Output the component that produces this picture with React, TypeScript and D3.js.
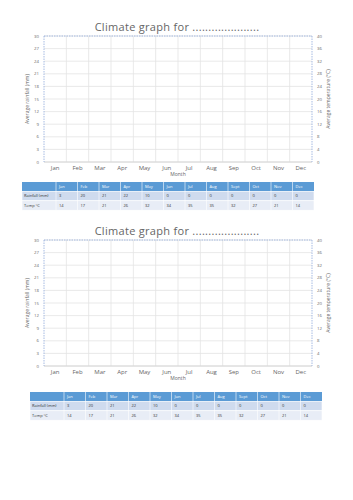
import * as d3 from "d3";

const months = ["Jan", "Feb", "Mar", "Apr", "May", "Jun", "Jul", "Aug", "Sep", "Oct", "Nov", "Dec"];
const tableMonths = ["Jan", "Feb", "Mar", "Apr", "May", "Jun", "Jul", "Aug", "Sept", "Oct", "Nov", "Dec"];
const rainfall = [3, 20, 21, 22, 10, 0, 0, 0, 0, 0, 0, 0];
const temperature = [14, 17, 21, 26, 32, 34, 35, 35, 32, 27, 21, 14];
const rainTicks = [0, 3, 6, 9, 12, 15, 18, 21, 24, 27, 30];
const tempTicks = [0, 4, 8, 12, 16, 20, 24, 28, 32, 36, 40];

const font = "'Open Sans', 'Liberation Sans', sans-serif";
const grey = "#666";

interface ChartProps {
  top: number; // y of the 30 / 40 line
  bottom: number; // y of the zero line
  tableX: number;
  tableY: number;
}

const ClimateChart = ({ top, bottom, tableX, tableY }: ChartProps) => {
  const left = 44;
  const right = 312;

  const x = d3.scaleBand().domain(months).range([left, right]);
  const yRain = d3.scaleLinear().domain([0, 30]).range([bottom, top]);
  const yTemp = d3.scaleLinear().domain([0, 40]).range([bottom, top]);

  // table
  const firstCol = 34;
  const cols = d3.scaleBand().domain(tableMonths).range([tableX + firstCol, tableX + firstCol + 12 * 21.5]);
  const rowH = 9.4;
  const rows = [
    { label: "Rainfall (mm)", values: rainfall, fill: "#cfdbee" },
    { label: "Temp ºC", values: temperature, fill: "#e8edf6" },
  ];
  const tableRight = tableX + firstCol + 12 * 21.5;
  const mid = (top + bottom) / 2;

  return (
    <g>
      <text x={177} y={top - 5} textAnchor="middle" fontFamily={font} fontSize={11} fill={grey} letterSpacing={0.3}>
        Climate graph for .....................
      </text>

      {/* horizontal grid */}
      {rainTicks.map((t) => (
        <line key={"h" + t} x1={left} x2={right} y1={yRain(t)} y2={yRain(t)} stroke="#e3e3e3" strokeWidth={0.8} />
      ))}
      {/* vertical grid at month boundaries */}
      {months.slice(1).map((m) => (
        <line key={"v" + m} x1={x(m)} x2={x(m)} y1={top} y2={bottom} stroke="#e3e3e3" strokeWidth={0.8} />
      ))}
      <line x1={left} x2={right} y1={bottom} y2={bottom} stroke="#d0d0d0" strokeWidth={0.8} />

      {/* dashed selection frame */}
      <line x1={left} x2={right} y1={top} y2={top} stroke="#8faadc" strokeWidth={0.8} strokeDasharray="1.5,1" />
      <line x1={left} x2={left} y1={top} y2={bottom} stroke="#8faadc" strokeWidth={0.8} strokeDasharray="1.5,1" />
      <line x1={right} x2={right} y1={top} y2={bottom} stroke="#8faadc" strokeWidth={0.8} strokeDasharray="1.5,1" />

      {rainTicks.map((t) => (
        <text key={"l" + t} x={39} y={yRain(t) + 1.5} textAnchor="end" fontFamily={font} fontSize={4.3} fill={grey}>
          {t}
        </text>
      ))}
      {tempTicks.map((t) => (
        <text key={"r" + t} x={317} y={yTemp(t) + 1.5} fontFamily={font} fontSize={4.3} fill={grey}>
          {t}
        </text>
      ))}
      {months.map((m) => (
        <text key={m} x={(x(m) ?? 0) + x.bandwidth() / 2} y={bottom + 8} textAnchor="middle" fontFamily={font} fontSize={6} fill={grey}>
          {m}
        </text>
      ))}
      <text x={178} y={bottom + 14} textAnchor="middle" fontFamily={font} fontSize={5} fill={grey}>
        Month
      </text>
      <text transform={`translate(29,${mid}) rotate(-90)`} textAnchor="middle" fontFamily={font} fontSize={5} fill={grey}>
        Average rainfall (mm)
      </text>
      <text transform={`translate(330,${mid}) rotate(-90)`} textAnchor="middle" fontFamily={font} fontSize={5} fill={grey}>
        Average temperature (°C)
      </text>

      {/* table */}
      <rect x={tableX} y={tableY} width={tableRight - tableX} height={rowH} fill="#5b9bd5" />
      {tableMonths.map((m) => (
        <text key={"th" + m} x={(cols(m) ?? 0) + 3} y={tableY + 6} fontFamily={font} fontSize={4} fill="#fff">
          {m}
        </text>
      ))}
      {rows.map((r, i) => {
        const ry = tableY + rowH * (i + 1);
        return (
          <g key={r.label}>
            <rect x={tableX} y={ry} width={tableRight - tableX} height={rowH} fill={r.fill} stroke="#fff" strokeWidth={0.6} />
            <text x={tableX + 2} y={ry + 6} fontFamily={font} fontSize={4} fill="#333">
              {r.label}
            </text>
            {r.values.map((v, j) => (
              <text key={j} x={(cols(tableMonths[j]) ?? 0) + 3} y={ry + 6} fontFamily={font} fontSize={4} fill="#333">
                {v}
              </text>
            ))}
          </g>
        );
      })}
      {tableMonths.map((m) => (
        <line key={"tl" + m} x1={cols(m)} x2={cols(m)} y1={tableY} y2={tableY + rowH * 3} stroke="#fff" strokeWidth={0.6} />
      ))}
    </g>
  );
};

export default function App() {
  return (
    <svg width={353} height={500} style={{ position: "absolute", left: 0, top: 0, background: "#fff" }}>
      <ClimateChart top={36} bottom={162} tableX={22} tableY={182} />
      <ClimateChart top={240} bottom={366} tableX={30} tableY={392} />
    </svg>
  );
}
